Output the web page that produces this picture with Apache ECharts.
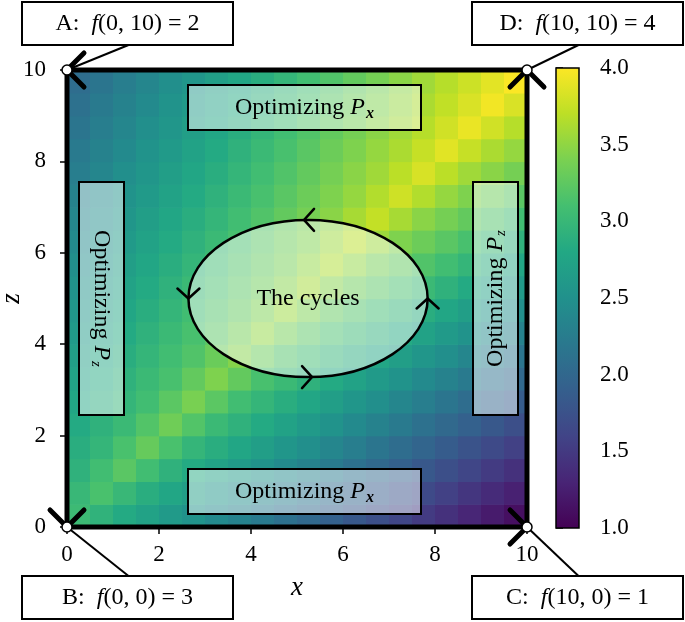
<!DOCTYPE html>
<html lang="en">
<head>
<meta charset="UTF-8">
<title>cycles heatmap</title>
<script src="https://cdn.jsdelivr.net/npm/echarts@6/dist/echarts.min.js"></script>
<style>
    *{margin:0;padding:0;}
    body{background:#fff;}
    .container{width:685px;height:622px;}
</style>
</head>
<body>
<div class="container"></div>
<script>
    // cell centres of the field (x across, z up)
    let xCells = [0.25,0.75,1.25,1.75,2.25,2.75,3.25,3.75,4.25,4.75,5.25,5.75,6.25,6.75,7.25,7.75,8.25,8.75,9.25,9.75];
    let zCells = [0.25,0.75,1.25,1.75,2.25,2.75,3.25,3.75,4.25,4.75,5.25,5.75,6.25,6.75,7.25,7.75,8.25,8.75,9.25,9.75];

    // f(x, z), one row per z cell, bottom row first
    let fRows = [
        [3.04,2.93,2.82,2.72,2.62,2.52,2.42,2.32,2.22,2.12,2.02,1.92,1.82,1.72,1.62,1.52,1.42,1.32,1.22,1.12],
        [3.00,3.13,3.00,2.87,2.77,2.67,2.57,2.47,2.37,2.27,2.17,2.07,1.97,1.87,1.77,1.67,1.57,1.47,1.37,1.27],
        [2.92,3.07,3.22,3.07,2.92,2.82,2.72,2.62,2.52,2.42,2.32,2.22,2.12,2.02,1.92,1.82,1.72,1.62,1.52,1.42],
        [2.87,2.97,3.13,3.29,3.13,2.97,2.87,2.77,2.67,2.57,2.47,2.37,2.27,2.17,2.07,1.97,1.87,1.77,1.67,1.57],
        [2.82,2.92,3.02,3.18,3.34,3.18,3.02,2.92,2.82,2.72,2.62,2.52,2.42,2.32,2.22,2.12,2.02,1.92,1.82,1.72],
        [2.77,2.87,2.97,3.07,3.23,3.39,3.23,3.07,2.97,2.87,2.77,2.67,2.57,2.47,2.37,2.27,2.17,2.07,1.97,1.87],
        [2.72,2.82,2.92,3.02,3.12,3.27,3.42,3.27,3.12,3.02,2.92,2.82,2.72,2.62,2.52,2.42,2.32,2.22,2.12,2.02],
        [2.67,2.77,2.87,2.97,3.07,3.17,3.31,3.45,3.31,3.17,3.07,2.97,2.87,2.77,2.67,2.57,2.47,2.37,2.27,2.17],
        [2.62,2.72,2.82,2.92,3.02,3.12,3.22,3.36,3.50,3.36,3.22,3.12,3.02,2.92,2.82,2.72,2.62,2.52,2.42,2.32],
        [2.57,2.67,2.77,2.87,2.97,3.07,3.17,3.27,3.40,3.54,3.40,3.27,3.17,3.07,2.97,2.87,2.77,2.67,2.57,2.47],
        [2.52,2.62,2.72,2.82,2.92,3.02,3.12,3.22,3.32,3.45,3.58,3.45,3.32,3.22,3.12,3.02,2.92,2.82,2.72,2.62],
        [2.47,2.57,2.67,2.77,2.87,2.97,3.07,3.17,3.27,3.37,3.50,3.63,3.50,3.37,3.27,3.17,3.07,2.97,2.87,2.77],
        [2.42,2.52,2.62,2.72,2.82,2.92,3.02,3.12,3.22,3.32,3.42,3.55,3.68,3.55,3.42,3.32,3.22,3.12,3.02,2.92],
        [2.37,2.47,2.57,2.67,2.77,2.87,2.97,3.07,3.17,3.27,3.37,3.47,3.60,3.73,3.60,3.47,3.37,3.27,3.17,3.07],
        [2.32,2.42,2.52,2.62,2.72,2.82,2.92,3.02,3.12,3.22,3.32,3.42,3.52,3.65,3.78,3.65,3.52,3.42,3.32,3.22],
        [2.27,2.37,2.47,2.57,2.67,2.77,2.87,2.97,3.07,3.17,3.27,3.37,3.47,3.57,3.69,3.82,3.69,3.57,3.47,3.37],
        [2.22,2.32,2.42,2.52,2.62,2.72,2.82,2.92,3.02,3.12,3.22,3.32,3.42,3.52,3.62,3.74,3.87,3.74,3.62,3.52],
        [2.17,2.27,2.37,2.47,2.57,2.67,2.77,2.87,2.97,3.07,3.17,3.27,3.37,3.47,3.57,3.67,3.79,3.91,3.79,3.67],
        [2.12,2.22,2.32,2.42,2.52,2.62,2.72,2.82,2.92,3.02,3.12,3.22,3.32,3.42,3.52,3.62,3.72,3.83,3.95,3.83],
        [2.07,2.17,2.27,2.37,2.47,2.57,2.67,2.77,2.87,2.97,3.07,3.17,3.27,3.37,3.47,3.57,3.67,3.77,3.88,3.99]
    ];

    // the four labelled corners
    let cornerNames = ['A', 'B', 'C', 'D'];
    let cornerX = [0, 0, 10, 10];
    let cornerZ = [10, 0, 0, 10];
    let cornerF = [2, 3, 1, 4];
    // direction of the thick arrows round the square
    let cycleOrder = ['C', 'D', 'A', 'B', 'C'];

    let colorRange = [1, 4];

    let serif = 'Liberation Serif';
    let viridis = ['#440154','#482475','#414487','#355f8d','#2a788e','#21918c','#22a884','#44bf70','#7ad151','#bddf26','#fde725'];

    let container = document.querySelector('.container');
    let mychart = echarts.init(container);

    let cells = [];
    fRows.forEach((row, j) => {
        row.forEach((v, i) => cells.push([xCells[i], zCells[j], v]));
    });
    let halfCell = (xCells[1] - xCells[0]) / 2;

    let edges = [];
    for (let k = 0; k < cycleOrder.length - 1; k++) {
        let a = cornerNames.indexOf(cycleOrder[k]);
        let b = cornerNames.indexOf(cycleOrder[k + 1]);
        edges.push([cornerX[a], cornerZ[a], cornerX[b], cornerZ[b]]);
    }

    function chevron(tip, ang, back, side) {
        let c = Math.cos(ang), s = Math.sin(ang);
        return [
            [tip[0] - back * c - side * s, tip[1] - back * s + side * c],
            tip,
            [tip[0] - back * c + side * s, tip[1] - back * s - side * c]
        ];
    }

    let tickLabel = {color: '#000', fontFamily: serif, fontSize: 23};
    let tickLine = {lineStyle: {color: '#000', width: 1.5}};
    let nameStyle = {color: '#000', fontFamily: serif, fontSize: 27, fontStyle: 'italic'};

    let options = {
        animation: false,
        backgroundColor: '#fff',
        grid: [
            {left: 67, top: 70, width: 460, height: 457, outerBoundsMode: 'none', containLabel: false},
            {left: 556, top: 68, width: 23, height: 460, outerBoundsMode: 'none', containLabel: false}
        ],
        xAxis: [
            {
                type: 'value', gridIndex: 0, min: 0, max: 10, interval: 2,
                axisLine: {show: false},
                axisTick: Object.assign({show: true, length: 7, inside: false}, tickLine),
                axisLabel: Object.assign({margin: 16}, tickLabel),
                splitLine: {show: false},
                name: 'x', nameLocation: 'middle', nameGap: 47, nameMoveOverlap: false,
                nameTextStyle: nameStyle
            },
            {type: 'value', gridIndex: 1, min: 0, max: 1, show: false}
        ],
        yAxis: [
            {
                type: 'value', gridIndex: 0, min: 0, max: 10, interval: 2,
                axisLine: {show: false},
                axisTick: Object.assign({show: true, length: 7, inside: false}, tickLine),
                axisLabel: Object.assign({margin: 21}, tickLabel),
                splitLine: {show: false},
                name: 'z', nameLocation: 'middle', nameGap: 42, nameMoveOverlap: false,
                nameTextStyle: nameStyle
            },
            {
                type: 'value', gridIndex: 1, position: 'right', min: 1, max: 4, interval: 0.5,
                axisLine: {show: false},
                axisTick: Object.assign({show: true, length: 7, inside: false}, tickLine),
                axisLabel: Object.assign({margin: 21, formatter: v => v.toFixed(1)}, tickLabel),
                splitLine: {show: false}
            }
        ],
        visualMap: {
            show: false, type: 'continuous', min: colorRange[0], max: colorRange[1],
            dimension: 2, seriesIndex: 0, inRange: {color: viridis}
        },
        series: [
            {
                // the colour field
                type: 'custom', xAxisIndex: 0, yAxisIndex: 0, z: 1,
                data: cells,
                encode: {x: 0, y: 1},
                renderItem: function (params, api) {
                    let x = api.value(0), z = api.value(1);
                    let p0 = api.coord([x - halfCell, z + halfCell]);
                    let p1 = api.coord([x + halfCell, z - halfCell]);
                    return {
                        type: 'rect',
                        shape: {x: p0[0], y: p0[1], width: p1[0] - p0[0] + 0.7, height: p1[1] - p0[1] + 0.7},
                        style: {fill: api.visual('color')}
                    };
                }
            },
            {
                // thick arrows round the square
                type: 'custom', xAxisIndex: 0, yAxisIndex: 0, z: 4, clip: false,
                data: edges,
                encode: {x: [0, 2], y: [1, 3]},
                renderItem: function (params, api) {
                    let a = api.coord([api.value(0), api.value(1)]);
                    let b = api.coord([api.value(2), api.value(3)]);
                    let ang = Math.atan2(b[1] - a[1], b[0] - a[0]);
                    return {
                        type: 'group',
                        children: [
                            {type: 'line', shape: {x1: a[0], y1: a[1], x2: b[0], y2: b[1]},
                             style: {stroke: '#000', lineWidth: 5, lineCap: 'square'}},
                            {type: 'polyline', shape: {points: chevron(b, ang, 17, 17)},
                             style: {stroke: '#000', lineWidth: 5, fill: null, lineCap: 'round', lineJoin: 'miter'}}
                        ]
                    };
                }
            },
            {
                // "The cycles" loop
                type: 'custom', xAxisIndex: 0, yAxisIndex: 0, z: 3,
                data: [[5.24, 5.0, 2.6, 1.72]],
                encode: {x: 0, y: 1},
                renderItem: function (params, api) {
                    let c = api.coord([api.value(0), api.value(1)]);
                    let r = api.size([api.value(2), api.value(3)]);
                    let arrowStyle = {stroke: '#000', lineWidth: 2.5, fill: null, lineCap: 'round'};
                    return {
                        type: 'group',
                        children: [
                            {type: 'ellipse', shape: {cx: c[0], cy: c[1], rx: r[0], ry: r[1]},
                             style: {fill: 'rgba(255,255,255,0.5)', stroke: '#000', lineWidth: 2.5}},
                            {type: 'polyline', shape: {points: chevron([c[0] - 4, c[1] - r[1]], Math.PI, 10, 11)}, style: arrowStyle},
                            {type: 'polyline', shape: {points: chevron([c[0] - r[0], c[1]], Math.PI / 2, 10, 11)}, style: arrowStyle},
                            {type: 'polyline', shape: {points: chevron([c[0] + 4, c[1] + r[1]], 0, 10, 11)}, style: arrowStyle},
                            {type: 'polyline', shape: {points: chevron([c[0] + r[0], c[1]], -Math.PI / 2, 10, 11)}, style: arrowStyle},
                            {type: 'text', x: c[0], y: c[1],
                             style: {text: 'The cycles', fontFamily: serif, fontSize: 24, fill: '#000',
                                     align: 'center', verticalAlign: 'middle', textAlign: 'center', textVerticalAlign: 'middle'}}
                        ]
                    };
                }
            },
            {
                // corner markers
                type: 'scatter', xAxisIndex: 0, yAxisIndex: 0, z: 20, clip: false,
                data: cornerX.map((x, k) => [x, cornerZ[k]]),
                symbol: 'circle', symbolSize: 10,
                itemStyle: {color: '#fff', borderColor: '#000', borderWidth: 1.5, opacity: 1}
            },
            {
                // colour bar
                type: 'custom', xAxisIndex: 1, yAxisIndex: 1, z: 2,
                data: [[colorRange[0], colorRange[1]]],
                encode: {y: [0, 1]},
                renderItem: function (params, api) {
                    let p0 = api.coord([0, api.value(0)]);
                    let p1 = api.coord([1, api.value(1)]);
                    let stops = viridis.map((c, k) => ({offset: k / (viridis.length - 1), color: c}));
                    return {
                        type: 'rect',
                        shape: {x: p0[0], y: p1[1], width: p1[0] - p0[0], height: p0[1] - p1[1]},
                        style: {fill: new echarts.graphic.LinearGradient(0, 1, 0, 0, stops), stroke: '#000', lineWidth: 1.5}
                    };
                }
            }
        ]
    };

    mychart.setOption(options);

    // annotation boxes
    let rich = {
        i: {fontStyle: 'italic', fontFamily: serif, fontSize: 24, color: '#000'},
        sx: {fontStyle: 'italic', fontWeight: 'bold', fontFamily: serif, fontSize: 16, color: '#000', padding: [12, 0, 0, 1]},
        sz: {fontStyle: 'italic', fontFamily: serif, fontSize: 15, color: '#000', padding: [12, 0, 0, 1]}
    };

    function box(x, y, w, h, text, fill, rot) {
        return {
            type: 'rect', z: 30,
            shape: {x: x, y: y, width: w, height: h},
            style: {fill: fill, stroke: '#000', lineWidth: 2},
            textContent: {
                type: 'text', z: 31,
                style: {text: text, rich: rich, fontFamily: serif, fontSize: 24, fill: '#000'}
            },
            textConfig: {position: 'inside', rotation: rot || 0}
        };
    }

    let cornerBoxes = {
        A: {x: 22, y: 2, top: true},
        B: {x: 22, y: 576, top: false},
        C: {x: 472, y: 576, top: false},
        D: {x: 472, y: 2, top: true}
    };
    let boxW = 211, boxH = 43;

    let elements = [];
    cornerNames.forEach((name, k) => {
        let b = cornerBoxes[name];
        let p = mychart.convertToPixel({xAxisIndex: 0, yAxisIndex: 0}, [cornerX[k], cornerZ[k]]);
        let ax = b.x + boxW / 2 + 1, ay = b.top ? b.y + boxH : b.y;
        elements.push({type: 'line', z: 15, shape: {x1: ax, y1: ay, x2: p[0], y2: p[1]},
                       style: {stroke: '#000', lineWidth: 2}});
        elements.push(box(b.x, b.y, boxW, boxH,
            name + ':  {i|f}(' + cornerX[k] + ', ' + cornerZ[k] + ') = ' + cornerF[k], '#fff'));
    });

    let soft = 'rgba(255,255,255,0.5)';
    elements.push(box(188, 85, 233, 45, 'Optimizing {i|P}{sx|x}', soft));
    elements.push(box(188, 469, 233, 45, 'Optimizing {i|P}{sx|x}', soft));
    elements.push(box(79, 182, 45, 233, 'Optimizing {i|P}{sz|z}', soft, -Math.PI / 2));
    elements.push(box(473, 182, 45, 233, 'Optimizing {i|P}{sz|z}', soft, Math.PI / 2));

    mychart.setOption({graphic: {elements: elements}});
</script>
</body>
</html>
